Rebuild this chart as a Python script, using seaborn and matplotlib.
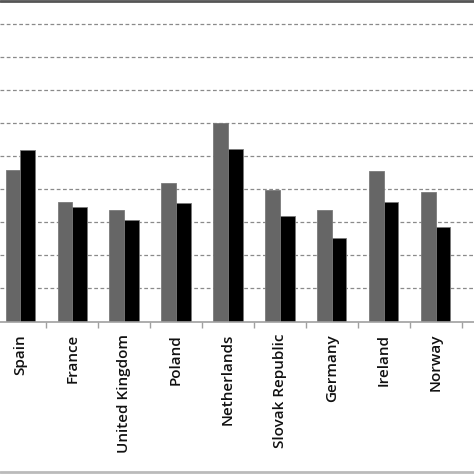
import pandas as pd
import matplotlib.pyplot as plt
import seaborn as sns
from matplotlib.lines import Line2D

# data (in gridline units)
paises = ["Spain", "France", "United Kingdom", "Poland", "Netherlands",
          "Slovak Republic", "Germany", "Ireland", "Norway"]
serie_cinza = [4.59, 3.61, 3.37, 4.19, 6.00, 3.98, 3.37, 4.57, 3.92]
serie_preta = [5.19, 3.48, 3.08, 3.59, 5.22, 3.19, 2.53, 3.61, 2.85]

df = pd.DataFrame({
    "pais": paises * 2,
    "valor": serie_cinza + serie_preta,
    "serie": ["A"] * len(paises) + ["B"] * len(paises),
})

sns.set_style("white")
plt.rcParams["font.family"] = ["Open Sans", "DejaVu Sans"]

fig = plt.figure(figsize=(4.74, 4.74), dpi=100)
ax = fig.add_axes([0, 1 - 321.5 / 474, 1, 321.5 / 474])

sns.barplot(data=df, x="pais", y="valor", hue="serie",
            palette=["#666666", "#000000"], width=0.566, gap=0,
            edgecolor="#7a7a7a", linewidth=0.6, ax=ax, legend=False)

ax.set_xlim(-0.391, 8.74)
ax.set_ylim(0, 9.74)
ax.set_yticks(range(1, 10))
ax.set_yticklabels([])
ax.tick_params(axis="y", length=0)
ax.yaxis.grid(True, linestyle=(0, (3, 2)), color="#8a8a8a", linewidth=0.9)
ax.set_axisbelow(True)

# divisões entre categorias
ax.set_xticks([i + 0.5 for i in range(len(paises))], minor=True)
ax.tick_params(axis="x", which="minor", length=4, width=1, color="#a0a0a0",
               direction="out", bottom=True)
ax.tick_params(axis="x", which="major", length=0, pad=9, labelsize=11)
ax.set_xticks(range(len(paises)))
ax.set_xticklabels(paises, rotation=90, va="top", fontweight="semibold",
                   color="#111111")

for lado in ["left", "right", "top"]:
    ax.spines[lado].set_visible(False)
ax.spines["bottom"].set_color("#a0a0a0")
ax.spines["bottom"].set_linewidth(1.2)
ax.set_xlabel("")
ax.set_ylabel("")

# moldura da imagem
fig.add_artist(Line2D([0, 1], [0.998, 0.998], transform=fig.transFigure,
                      color="#555555", linewidth=2))
fig.add_artist(Line2D([0, 1], [0.004, 0.004], transform=fig.transFigure,
                      color="#bbbbbb", linewidth=2))

fig.savefig("out.png", dpi=100)
